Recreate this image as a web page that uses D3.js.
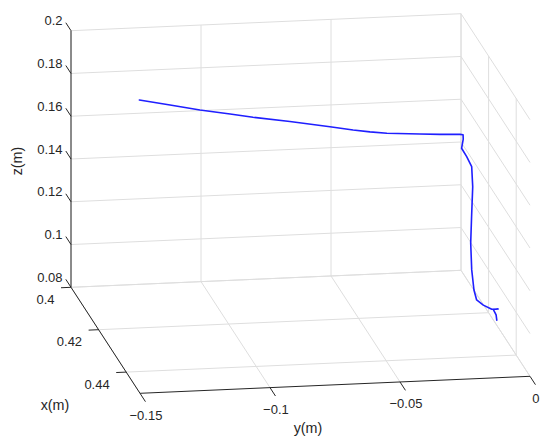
<!DOCTYPE html>
<html><head><meta charset="utf-8">
<script src="https://cdn.jsdelivr.net/npm/d3@7"></script>
<style>body{margin:0;background:#fff}svg{display:block}text{font-family:"Liberation Sans",Arial,Helvetica,sans-serif;fill:#262626}</style>
</head><body>
<svg id="c" width="550" height="441"></svg>
<script>
// ---- data ----
const xDomain = [0.4, 0.45];
const yDomain = [-0.15, 0];
const zDomain = [0.08, 0.2];
const xTicks = [0.4, 0.42, 0.44];
const yTicks = [-0.15, -0.1, -0.05, 0];
const zTicks = [0.08, 0.1, 0.12, 0.14, 0.16, 0.18, 0.2];
const xTickLabels = ["0.4", "0.42", "0.44"];
const yTickLabels = ["\u22120.15", "\u22120.1", "\u22120.05", "0"];
const zTickLabels = ["0.08", "0.1", "0.12", "0.14", "0.16", "0.18", "0.2"];
const trajX = [0.4,0.4,0.4,0.4,0.4,0.4,0.4,0.4,0.4,0.4,0.4,0.4,0.4,
  0.4015,0.402,0.4025,0.4045,0.4085,0.410,0.412,0.414,0.417,0.419,0.420,0.422,0.424,0.4275,0.4245,0.426,0.4265];
const trajY = [-0.1237,-0.1119,-0.1004,-0.0888,-0.0800,-0.0658,-0.0504,-0.0415,-0.0350,-0.0285,-0.0158,-0.0081,-0.0004,
  0.0000,-0.0002,-0.0011,-0.0002,-0.0004,-0.0008,-0.0023,-0.0037,-0.0049,-0.0051,-0.0046,-0.0031,-0.0009,-0.0003,-0.0006,-0.0003,-0.0003];
const trajZ = [0.1662,0.1632,0.1603,0.1578,0.1558,0.1531,0.1498,0.1478,0.1466,0.1456,0.1446,0.1440,0.1436,
  0.1449,0.1433,0.1396,0.1376,0.1369,0.1291,0.1171,0.1068,0.0973,0.0899,0.0862,0.0857,0.0856,0.0892,0.0860,0.0849,0.0830];

// ---- projection (orthographic, via linear scales) ----
const ox = 71, oy = 287.3;
const sxX = d3.scaleLinear().domain(xDomain).range([0, 69]);
const syX = d3.scaleLinear().domain(xDomain).range([0, 106]);
const sxY = d3.scaleLinear().domain(yDomain).range([0, 390]);
const syY = d3.scaleLinear().domain(yDomain).range([0, -17]);
const syZ = d3.scaleLinear().domain(zDomain).range([0, -256.6]);
const P = (x, y, z) => [ox + sxX(x) + sxY(y), oy + syX(x) + syY(y) + syZ(z)];

const svg = d3.select("#c");
const gGrid = svg.append("g").attr("stroke", "#dedede").attr("stroke-width", 1).attr("fill", "none");
const seg = (g, a, b) => g.append("line").attr("x1", a[0]).attr("y1", a[1]).attr("x2", b[0]).attr("y2", b[1]);
const [x0, x1] = xDomain, [y0, y1] = yDomain, [z0, z1] = zDomain;

// back wall x = x0
zTicks.forEach(z => seg(gGrid, P(x0, y0, z), P(x0, y1, z)));
yTicks.forEach(y => seg(gGrid, P(x0, y, z0), P(x0, y, z1)));
// side wall y = y1
zTicks.forEach(z => seg(gGrid, P(x0, y1, z), P(x1, y1, z)));
xTicks.forEach(x => seg(gGrid, P(x, y1, z0), P(x, y1, z1)));
// floor z = z0
xTicks.forEach(x => seg(gGrid, P(x, y0, z0), P(x, y1, z0)));
yTicks.forEach(y => seg(gGrid, P(x0, y, z0), P(x1, y, z0)));

// axes
const gAx = svg.append("g").attr("stroke", "#262626").attr("stroke-width", 1).attr("fill", "none");
seg(gAx, P(x0, y0, z0), P(x0, y0, z1));
seg(gAx, P(x0, y0, z0), P(x1, y0, z0));
seg(gAx, P(x1, y0, z0), P(x1, y1, z0));

const exL = Math.hypot(69, 106), exU = [69 / exL, 106 / exL];
const eyL = Math.hypot(390, 17), eyU = [390 / eyL, -17 / eyL];
const tl = 9.5;
const gT = svg.append("g").attr("font-size", "13px");

// z ticks
zTicks.forEach((z, i) => {
  const p = P(x0, y0, z);
  const e = [p[0] - tl * exU[0], p[1] - tl * exU[1]];
  seg(gAx, p, e);
  gT.append("text").attr("x", 62.5).attr("y", p[1] - 10).attr("text-anchor", "end")
    .attr("dominant-baseline", "central").text(zTickLabels[i]);
});
// x ticks
xTicks.forEach((x, i) => {
  const p = P(x, y0, z0);
  const e = [p[0] - 10 * eyU[0], p[1] - 10 * eyU[1]];
  seg(gAx, p, e);
  gT.append("text").attr("x", e[0] - 6.5).attr("y", e[1] + 11.5).attr("text-anchor", "end")
    .attr("dominant-baseline", "central").text(xTickLabels[i]);
});
// y ticks
yTicks.forEach((y, i) => {
  const p = P(x1, y, z0);
  const e = [p[0] + 10 * exU[0], p[1] + 10 * exU[1]];
  seg(gAx, p, e);
  gT.append("text").attr("x", e[0] + 0.5).attr("y", e[1] + 13.5).attr("text-anchor", "middle")
    .attr("dominant-baseline", "central").text(yTickLabels[i]);
});

// axis labels
const gL = svg.append("g").attr("font-size", "14.3px");
gL.append("text").attr("transform", "translate(17,161) rotate(-90)").attr("text-anchor", "middle")
  .attr("dominant-baseline", "central").text("z(m)");
gL.append("text").attr("x", 55).attr("y", 405).attr("text-anchor", "middle")
  .attr("dominant-baseline", "central").text("x(m)");
gL.append("text").attr("x", 308).attr("y", 428).attr("text-anchor", "middle")
  .attr("dominant-baseline", "central").text("y(m)");

// trajectory
const pts = trajX.map((x, i) => P(x, trajY[i], trajZ[i]));
svg.append("path").datum(pts).attr("fill", "none").attr("stroke", "#1f1fff")
  .attr("stroke-width", 1.6).attr("stroke-linejoin", "round").attr("stroke-linecap", "round")
  .attr("d", d3.line());
</script>
</body></html>
